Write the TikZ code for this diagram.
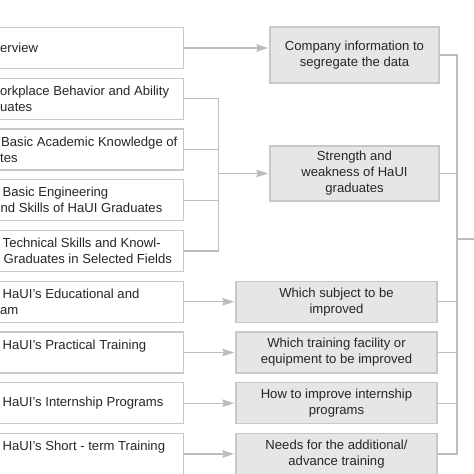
\documentclass[tikz,border=0pt]{standalone}
\usepackage{fontspec}
\setmainfont{Liberation Sans}
\usetikzlibrary{arrows.meta}
\definecolor{bordc}{HTML}{C8C8C8}
\definecolor{linec}{HTML}{BDBDBD}
\definecolor{fillc}{HTML}{E6E6E6}
\definecolor{txtc}{HTML}{262626}
\begin{document}
\begin{tikzpicture}[x=1pt,y=-1pt,
  lbox/.style={draw=bordc, line width=1.4pt, fill=white, rectangle, minimum width=214pt, minimum height=41pt, inner sep=0pt, anchor=east},
  ltext/.style={anchor=west, align=left, inner sep=0pt, text=txtc, font=\fontsize{13.1}{16}\selectfont},
  rbox/.style={draw=bordc, line width=1.4pt, fill=fillc, rectangle, inner sep=0pt, align=center, text=txtc, font=\fontsize{13.1}{16}\selectfont},
  conn/.style={draw=linec, line width=1.4pt},
  arr/.style={conn, -{Stealth[length=12pt,width=7.5pt,inset=1.5pt]}, shorten >=1pt}
]
\useasboundingbox (0,0) rectangle (474,474);
\clip (0,0) rectangle (474,474);
% left boxes
\node[lbox] (l1) at (184,48) {};
\node[lbox] (l2) at (184,98.75) {};
\node[lbox] (l3) at (184,149.5) {};
\node[lbox] (l4) at (184,200.25) {};
\node[lbox] (l5) at (184,251) {};
\node[lbox] (l6) at (184,301.75) {};
\node[lbox] (l7) at (184,352.5) {};
\node[lbox] (l8) at (184,403.25) {};
\node[lbox] (l9) at (184,454) {};
% left texts
\node[ltext] (t1) at (0,48) {erview};
\node[ltext] (t2) at (0,98.75) {orkplace Behavior and Ability\\uates};
\node[ltext] (t3) at (0,149.5) {\hspace*{1pt}Basic Academic Knowledge of\\tes};
\node[ltext] (t4) at (0,200.25) {\hspace*{2.5pt}Basic Engineering\\\hspace*{0.5pt}nd Skills of HaUI Graduates};
\node[ltext] (t5) at (0,251) {\hspace*{2.5pt}Technical Skills and Knowl-\\\hspace*{3.5pt}Graduates in Selected Fields};
\node[ltext] (t6) at (0,301.75) {\hspace*{2.5pt}HaUI’s Educational and\\am};
\node[ltext] (t7) at (0,352.5) {\hspace*{2.5pt}HaUI’s Practical Training\\\mbox{}};
\node[ltext] (t8) at (0,403.25) {\hspace*{2.5pt}HaUI’s Internship Programs};
\node[ltext] (t9) at (0,454) {\hspace*{2.5pt}HaUI’s Short - term Training\\\mbox{}};
% right boxes
\node[rbox, minimum width=169pt, minimum height=56pt] (A) at (354.5,55) {Company information to\\segregate the data};
\node[rbox, minimum width=169pt, minimum height=55pt] (B) at (354.5,173.5) {Strength and\\weakness of HaUI\\graduates};
\node[rbox, minimum width=201pt, minimum height=41pt] (C) at (336.5,301.75) {Which subject to be\\improved};
\node[rbox, minimum width=201pt, minimum height=41pt] (D) at (336.5,352.5) {Which training facility or\\equipment to be improved};
\node[rbox, minimum width=201pt, minimum height=41pt] (E) at (336.5,403.25) {How to improve internship\\programs};
\node[rbox, minimum width=201pt, minimum height=41pt] (F) at (336.5,454) {Needs for the additional/\\advance training};
% junction coordinates
\coordinate (jL) at (218.5,0);
\coordinate (jR) at (457,0);
\coordinate (out) at (480,239);
% connectors
\draw[arr] (l1.east) -- (l1.east -| A.west);
\draw[conn] (l2.east) -- (jL |- l2.east) -- (jL |- l5.east) -- (l5.east);
\draw[conn] (l3.east) -- (jL |- l3.east);
\draw[conn] (l4.east) -- (jL |- l4.east);
\draw[arr] (jL |- B.west) -- (B.west);
\draw[arr] (l6.east) -- (C.west);
\draw[arr] (l7.east) -- (D.west);
\draw[arr] (l8.east) -- (E.west);
\draw[arr] (l9.east) -- (F.west);
\draw[conn] (A.east) -- (jR |- A.east) -- (jR |- F.east) -- (F.east);
\draw[conn] (B.east) -- (jR |- B.east);
\draw[conn] (C.east) -- (jR |- C.east);
\draw[conn] (D.east) -- (jR |- D.east);
\draw[conn] (E.east) -- (jR |- E.east);
\draw[conn] (jR |- out) -- (out);
\end{tikzpicture}
\end{document}
